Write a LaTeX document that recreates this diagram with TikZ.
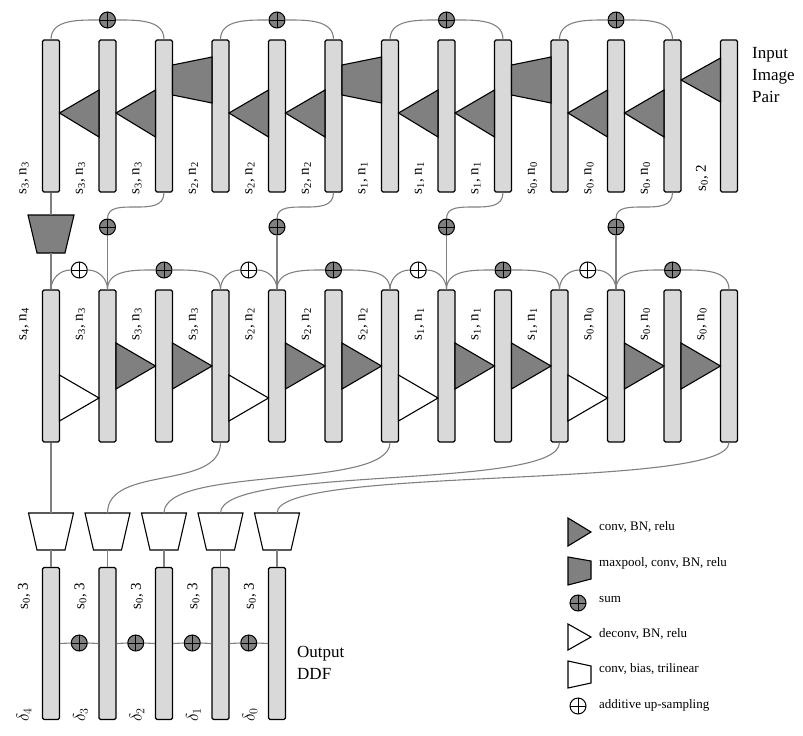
\documentclass[tikz,border=0pt]{standalone}
\usepackage{fontspec}
\setmainfont{Liberation Serif}
\usetikzlibrary{calc,positioning}

\newcommand\chan[1]{n\textsubscript{#1}}

\tikzset{
  bar/.style={draw, line width=1.1pt, fill=gray!30, rounded corners=1.5pt,
    minimum width=17pt, minimum height=152pt, inner sep=0pt},
  sum/.style={circle, draw, line width=1pt, fill=gray, minimum size=16pt, inner sep=0pt,
    path picture={\draw[line width=1pt] (path picture bounding box.north) -- (path picture bounding box.south)
      (path picture bounding box.west) -- (path picture bounding box.east);}},
  upsum/.style={sum, fill=white},
  link/.style={draw=gray, line width=1.1pt},
  layer/.style={draw, line width=1.1pt, fill=gray},
  openlayer/.style={layer, fill=white},
  dimlab/.style={rotate=90, inner sep=0pt, font=\fontsize{15}{15}\selectfont},
  legtext/.style={anchor=west, inner sep=0pt, font=\fontsize{13}{14}\selectfont},
}

\begin{document}
\begin{tikzpicture}[x=1pt, y=-1pt]
\useasboundingbox (0,0) rectangle (803,736);

\def\dx{56.5}
%% the bars of the three rows
\foreach \i in {0,...,12}
{
  \pgfmathsetmacro\x{51+\dx*\i}
  \node[bar] (t\i) at (\x,116) {};
  \node[bar] (m\i) at (\x,366) {};
}
\foreach \i in {0,...,4}
{
  \pgfmathsetmacro\x{51+\dx*\i}
  \node[bar] (b\i) at (\x,643.5) {};
}

%% encoder layers (pointing left)
\foreach \i in {0,1,3,4,6,7,9,10}
{
  \pgfmathsetmacro\xa{51+\dx*\i+8.5}
  \pgfmathsetmacro\xb{51+\dx*(\i+1)-8.5}
  \draw[layer] (\xa,113) -- (\xb,90) -- (\xb,137) -- cycle;
}
\foreach \i in {2,5,8}
{
  \pgfmathsetmacro\xa{51+\dx*\i+8.5}
  \pgfmathsetmacro\xb{51+\dx*(\i+1)-8.5}
  \draw[layer] (\xa,65) -- (\xb,57) -- (\xb,103) -- (\xa,95) -- cycle;
}
\pgfmathsetmacro\xa{51+\dx*11+8.5}
\pgfmathsetmacro\xb{51+\dx*12-8.5}
\draw[layer] (\xa,80) -- (\xb,58) -- (\xb,102) -- cycle;

%% decoder layers (pointing right)
\foreach \i in {0,3,6,9}
{
  \pgfmathsetmacro\xa{51+\dx*\i+8.5}
  \pgfmathsetmacro\xb{51+\dx*(\i+1)-8.5}
  \draw[openlayer] (\xa,375) -- (\xb,398) -- (\xa,421) -- cycle;
}
\foreach \i in {1,2,4,5,7,8,10,11}
{
  \pgfmathsetmacro\xa{51+\dx*\i+8.5}
  \pgfmathsetmacro\xb{51+\dx*(\i+1)-8.5}
  \draw[layer] (\xa,343) -- (\xb,366) -- (\xa,389) -- cycle;
}

%% residual sums, skip sums and up-sampling sums
\foreach \k in {0,...,3}
{
  \pgfmathtruncatemacro\ia{3*\k}
  \pgfmathtruncatemacro\ib{3*\k+1}
  \pgfmathtruncatemacro\ic{3*\k+2}
  \pgfmathtruncatemacro\id{3*\k+3}
  \pgfmathsetmacro\x{51+\dx*\ib}
  \pgfmathsetmacro\xu{51+\dx*(\ia+0.5)}
  \pgfmathsetmacro\xs{51+\dx*\ic}
  \node[sum] (tsum\k) at (\x,20) {};
  \draw[link] (t\ia.north) to[out=90,in=180] (tsum\k.west);
  \draw[link] (tsum\k.east) to[out=0,in=90] (t\ic.north);
  \node[sum] (skip\k) at (\x,227) {};
  \draw[link] (t\ic.south) .. controls +(0,28) and +(0,-24) .. (skip\k.north);
  \draw[link] (skip\k.south) -- (m\ib.north);
  \node[upsum] (up\k) at (\xu,270) {};
  \draw[link] (m\ia.north) to[out=90,in=180] (up\k.west);
  \draw[link] (up\k.east) to[out=0,in=90] (m\ib.north);
  \node[sum] (msum\k) at (\xs,270) {};
  \draw[link] (m\ib.north) to[out=90,in=180] (msum\k.west);
  \draw[link] (msum\k.east) to[out=0,in=90] (m\id.north);
}

%% bottleneck
\coordinate (pool-in) at (51,215);
\coordinate (pool-out) at (51,253);
\draw[layer] (28,215) -- (74,215) -- (65,253) -- (37,253) -- cycle;
\draw[link] (t0.south) -- (pool-in);
\draw[link] (pool-out) -- (m0.north);

%% output layers
\foreach \k in {0,...,4}
{
  \pgfmathsetmacro\x{51+\dx*\k}
  \coordinate (ddf\k-in) at (\x,513);
  \coordinate (ddf\k-out) at (\x,550);
  \draw[openlayer] (\x-22.5,513) -- (\x+22.5,513) -- (\x+14,550) -- (\x-14,550) -- cycle;
  \draw[link] (ddf\k-out) -- (b\k.north);
}
\draw[link] (m0.south) -- (ddf0-in);
\foreach \k in {1,...,4}
{
  \pgfmathtruncatemacro\i{3*\k}
  \draw[link] (m\i.south) .. controls +(0,48) and +(0,-48) .. (ddf\k-in);
}
\foreach \k in {0,...,3}
{
  \pgfmathtruncatemacro\kk{\k+1}
  \pgfmathsetmacro\x{51+\dx*(\k+0.5)}
  \node[sum] (bsum\k) at (\x,643) {};
  \draw[link] (b\k.east) -- (bsum\k.west);
  \draw[link] (bsum\k.east) -- (b\kk.west);
}

%% sizes
\foreach \s/\n [count=\i from 0] in {3/\chan3,3/\chan3,3/\chan3,2/\chan2,2/\chan2,2/\chan2,1/\chan1,1/\chan1,1/\chan1,0/\chan0,0/\chan0,0/\chan0,0/2}
{
  \pgfmathsetmacro\x{51+\dx*\i-27}
  \node[dimlab] (tlab\i) at (\x,178) {s\textsubscript{\s}, \n};
}
\foreach \s/\n [count=\i from 0] in {4/\chan4,3/\chan3,3/\chan3,3/\chan3,2/\chan2,2/\chan2,2/\chan2,1/\chan1,1/\chan1,1/\chan1,0/\chan0,0/\chan0,0/\chan0}
{
  \pgfmathsetmacro\x{51+\dx*\i-27}
  \node[dimlab] (mlab\i) at (\x,324) {s\textsubscript{\s}, \n};
}
\foreach \d [count=\i from 0] in {4,3,2,1,0}
{
  \pgfmathsetmacro\x{51+\dx*\i-27}
  \node[dimlab] (blab\i) at (\x,596) {s\textsubscript{0}, 3};
  \node[dimlab, font=\fontsize{17}{17}\selectfont] (dlab\i) at (\x,715) {$\delta_{\d}$};
}

\node[align=left, inner sep=0pt, anchor=north west, font=\fontsize{17}{22}\selectfont] (input) at (752,47) {Input\\Image\\Pair};
\node[align=left, inner sep=0pt, anchor=north west, font=\fontsize{17}{22}\selectfont] (output) at (297,646) {Output\\DDF};

%% legend
\draw[layer] (568,518) -- (591,532) -- (568,546) -- cycle;
\draw[layer] (568,557) -- (591,561) -- (591,579) -- (568,585) -- cycle;
\node[sum] (legsum) at (578,603) {};
\draw[openlayer] (568,624) -- (591,637) -- (568,650) -- cycle;
\draw[openlayer] (568,661) -- (591,666) -- (591,683) -- (568,688) -- cycle;
\node[upsum] (legup) at (578,706) {};
\node[legtext] (leg1) at (599,527) {conv, BN, relu};
\node[legtext] (leg2) at (599,563) {maxpool, conv, BN, relu};
\node[legtext] (leg3) at (599,599) {sum};
\node[legtext] (leg4) at (599,634) {deconv, BN, relu};
\node[legtext] (leg5) at (599,669) {conv, bias, trilinear};
\node[legtext] (leg6) at (599,705) {additive up-sampling};
\end{tikzpicture}
\end{document}
